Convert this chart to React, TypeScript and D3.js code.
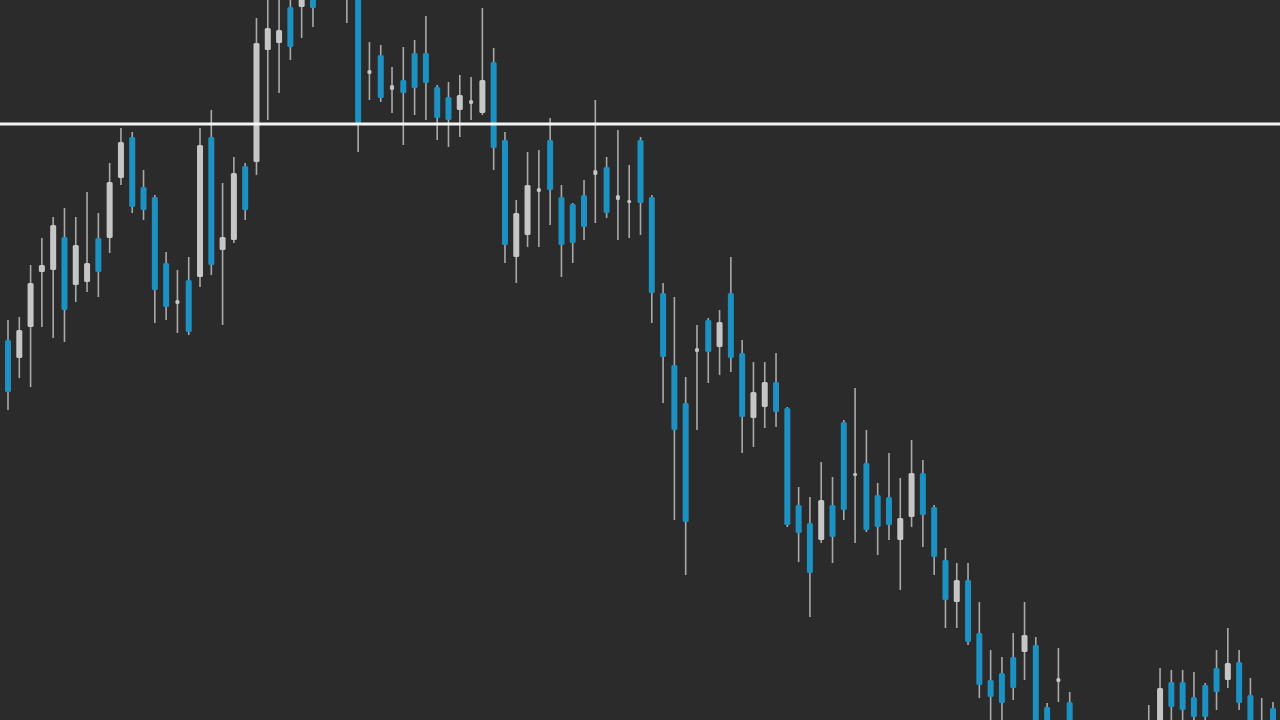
import React from "react";
import * as d3 from "d3";

// Price series (one value per bar, bar index = position in array)
const OPEN = [
  380, 362, 393, 448, 450, 483, 435, 438, 482, 482, 542, 583, 533, 523, 457, 416, 440, 443, 583, 470,
  480, 554, 558, 670, 677, 713, 713, 723, 765, 735, 725, 725, 646, 665, 630, 640, 667, 667, 633, 623,
  610, 616, 607, 658, 580, 463, 485, 528, 580, 523, 516, 525, 545, 553, 520, 517, 580, 523, 427, 355,
  317, 368, 400, 373, 427, 367, 302, 313, 338, 312, 215, 197, 180, 215, 298, 244, 257, 225, 223, 180,
  203, 247, 213, 160, 118, 140, 87, 40, 47, 63, 68, 75, 13, 38, 18, -25, -50, -45, -70, -55,
  -40, -20, -10, 38, 38, 23, 35, 52, 40, 58, 25, -15, 12,
];
const HIGH = [
  400, 403, 455, 482, 503, 512, 503, 528, 507, 557, 592, 588, 550, 525, 468, 450, 463, 592, 610, 537,
  563, 557, 702, 725, 722, 723, 730, 730, 775, 770, 760, 730, 678, 675, 653, 673, 680, 704, 635, 638,
  645, 643, 712, 672, 588, 520, 568, 570, 602, 535, 517, 540, 620, 563, 590, 555, 583, 525, 437, 423,
  343, 395, 402, 410, 463, 380, 358, 358, 367, 313, 233, 223, 258, 243, 300, 332, 290, 237, 267, 242,
  280, 260, 215, 172, 157, 157, 118, 70, 63, 87, 118, 83, 17, 72, 28, -15, -30, -35, -50, -30,
  -20, 15, 52, 50, 50, 48, 37, 70, 92, 70, 42, 22, 18,
];
const LOW = [
  310, 342, 333, 393, 382, 378, 418, 428, 423, 467, 535, 507, 500, 397, 400, 387, 385, 433, 445, 395,
  477, 500, 545, 600, 627, 660, 682, 693, 728, 725, 697, 568, 620, 618, 607, 575, 605, 600, 580, 573,
  583, 600, 605, 550, 457, 437, 473, 473, 495, 443, 457, 480, 497, 502, 480, 482, 485, 397, 317, 200,
  145, 290, 337, 345, 348, 267, 273, 292, 293, 193, 158, 103, 177, 157, 200, 177, 188, 165, 180, 130,
  193, 173, 145, 92, 92, 75, 22, -5, -5, 20, 40, -20, -30, 18, -30, -60, -65, -80, -85, -70,
  -50, -30, -20, -5, -5, -5, -10, 10, 32, 10, -15, -25, -20,
];
const CLOSE = [
  328, 390, 437, 455, 495, 410, 475, 457, 448, 538, 578, 513, 510, 430, 413, 420, 388, 575, 455, 483,
  547, 510, 677, 692, 690, 673, 725, 712, 740, 755, 750, 597, 650, 622, 635, 627, 632, 637, 602, 600,
  625, 620, 640, 572, 475, 507, 535, 532, 530, 475, 477, 493, 550, 507, 525, 520, 517, 427, 363, 290,
  198, 372, 368, 398, 362, 303, 328, 338, 308, 195, 187, 147, 220, 183, 210, 247, 190, 193, 195, 202,
  247, 205, 163, 120, 140, 78, 35, 23, 17, 32, 85, -10, -20, 42, -20, -50, -40, -70, -55, -40,
  -30, -5, 32, 13, 10, 3, 3, 28, 57, 17, -5, -5, -10,
];

// Horizontal level drawn across the chart
const LEVEL = 596;

const W = 1280;
const H = 720;
const BG = "#2b2b2b";
const BEAR = "#1a91c2";
const BULL = "#c6c6c6";
const WICK = "#a9a9a9";

export default function App() {
  const n = OPEN.length;
  const x = d3.scaleLinear().domain([0, n - 1]).range([8, 1273]);
  const y = d3.scaleLinear().domain([0, 720]).range([H, 0]);
  const bodyW = 6;

  const bars = d3.range(n).map((i) => ({
    i,
    o: OPEN[i],
    h: HIGH[i],
    l: LOW[i],
    c: CLOSE[i],
  }));

  return (
    <svg
      width={W}
      height={H}
      style={{ position: "fixed", left: 0, top: 0, display: "block", background: BG }}
    >
      <defs>
        <filter id="soft" x="-10%" y="-10%" width="120%" height="120%">
          <feGaussianBlur stdDeviation="0.5" />
        </filter>
      </defs>
      <rect x={0} y={0} width={W} height={H} fill={BG} />
      <g filter="url(#soft)">
        {bars.map((b) => {
          const up = b.c >= b.o;
          const cx = x(b.i);
          const top = y(Math.max(b.o, b.c));
          const bot = y(Math.min(b.o, b.c));
          const bh = Math.max(1, bot - top);
          const doji = bot - top < 6;
          return (
            <g key={b.i}>
              <line
                x1={cx}
                x2={cx}
                y1={y(b.h)}
                y2={y(b.l)}
                stroke={WICK}
                strokeWidth={1.6}
              />
              <rect
                x={cx - (doji ? 2 : bodyW / 2)}
                y={top}
                width={doji ? 4 : bodyW}
                height={bh}
                rx={1.5}
                fill={up ? BULL : BEAR}
              />
            </g>
          );
        })}
      </g>
      <line
        x1={0}
        x2={W}
        y1={y(LEVEL)}
        y2={y(LEVEL)}
        stroke="#f4f4f4"
        strokeWidth={3}
      />
    </svg>
  );
}
